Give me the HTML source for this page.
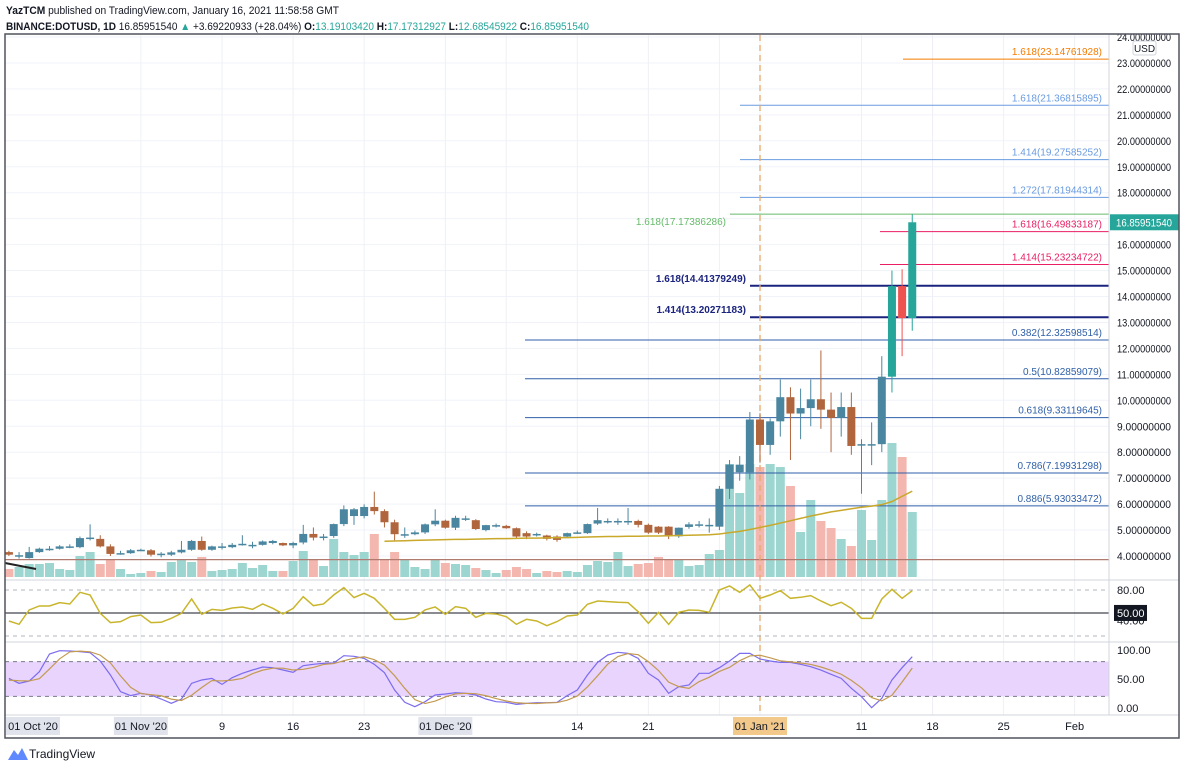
<!DOCTYPE html>
<html><head><meta charset="utf-8">
<style>
html,body{margin:0;padding:0;background:#fff;width:1185px;height:768px;overflow:hidden}
svg{display:block;font-family:"Liberation Sans",sans-serif}
</style></head>
<body>
<svg id="chart" width="1185" height="768" viewBox="0 0 1185 768" xmlns="http://www.w3.org/2000/svg">
<rect x="0" y="0" width="1185" height="768" fill="#ffffff"/>
<text x="6" y="14" font-size="11" fill="#131722" textLength="333" lengthAdjust="spacingAndGlyphs"><tspan font-weight="bold">YazTCM</tspan> published on TradingView.com, January 16, 2021 11:58:58 GMT</text>
<text x="6" y="30" font-size="11" fill="#131722" textLength="583" lengthAdjust="spacingAndGlyphs"><tspan font-weight="bold">BINANCE:DOTUSD, 1D</tspan> 16.85951540 <tspan fill="#26a69a">▲</tspan> +3.69220933 (+28.04%) <tspan font-weight="bold">O:</tspan><tspan fill="#26a69a">13.19103420</tspan> <tspan font-weight="bold">H:</tspan><tspan fill="#26a69a">17.17312927</tspan> <tspan font-weight="bold">L:</tspan><tspan fill="#26a69a">12.68545922</tspan> <tspan font-weight="bold">C:</tspan><tspan fill="#26a69a">16.85951540</tspan></text>
<g id="grid"></g>
<g id="vol"></g>
<g id="fibs"></g>
<g id="candles"></g>
<g id="ind"></g>
<g id="axes"></g>
<rect x="5" y="34" width="1174" height="704" fill="none" stroke="#50535e" stroke-width="1.5"/>
<g>
<path d="M8 760 L14 750 L18 755 L22 748 L28 760 Z" fill="#2962ff" opacity="0.75"/>
<text x="29" y="758" font-size="12" fill="#131722">TradingView</text>
</g>
</svg>
<script>
const opens=[4.15,4.02,3.92,4.15,4.28,4.28,4.37,4.34,4.71,4.66,4.37,4.11,4.11,4.24,4.22,4.09,4.05,4.14,4.24,4.58,4.24,4.37,4.34,4.47,4.43,4.43,4.5,4.5,4.41,4.52,4.85,4.75,4.77,5.23,5.54,5.54,5.89,5.73,5.30,4.84,4.84,4.91,5.22,5.36,5.09,5.45,5.38,5.00,5.19,5.16,5.07,4.88,4.85,4.79,4.75,4.75,4.91,4.88,5.25,
5.35,5.35,5.35,5.35,5.20,5.13,5.13,4.76,5.12,5.22,5.2,5.13,6.59,7.23,7.23,9.26,8.28,9.19,10.12,9.49,9.70,10.04,9.64,9.32,9.74,8.31,8.31,8.31,10.91,14.40,13.17];
const closes=[4.05,4.03,4.15,4.28,4.28,4.37,4.37,4.69,4.71,4.37,4.08,4.11,4.22,4.24,4.05,4.09,4.14,4.24,4.58,4.24,4.37,4.37,4.43,4.47,4.43,4.56,4.58,4.41,4.5,4.85,4.71,4.75,5.23,5.80,5.80,5.89,5.73,5.30,4.84,4.84,4.91,5.22,5.36,5.09,5.47,5.45,5.04,5.19,5.19,5.07,4.75,4.75,4.85,4.66,4.62,4.88,4.91,5.23,5.38,
5.35,5.35,5.35,5.20,4.90,4.90,4.76,5.09,5.22,5.22,5.2,6.59,7.52,7.52,9.26,8.28,9.19,10.12,9.49,9.70,10.04,9.64,9.32,9.74,8.24,8.31,8.31,10.91,14.40,13.17,16.86];
const highs=[4.2,4.15,4.35,4.32,4.38,4.42,4.45,4.75,5.22,4.8,4.45,4.2,4.27,4.28,4.27,4.15,4.2,4.58,4.62,4.75,4.4,4.5,4.5,4.8,4.55,4.6,4.62,4.52,4.55,5.2,5.1,4.85,5.25,5.95,5.85,5.99,6.48,5.8,5.4,5.1,4.98,5.25,5.8,5.4,5.55,5.55,5.42,5.2,5.25,5.2,5.1,4.95,4.9,4.82,4.8,4.9,4.98,5.25,5.85,
5.45,5.45,5.85,5.4,5.25,5.15,5.15,5.1,5.3,5.35,5.45,6.7,7.7,7.85,9.55,9.5,9.3,10.8,10.5,10.45,10.8,11.92,10.3,10.3,10.3,8.5,9.15,11.7,15.0,15.05,17.17];
const lows=[4.0,3.9,3.9,4.12,4.2,4.25,4.3,4.3,4.6,4.33,4.0,4.05,4.08,4.2,3.98,3.95,4.0,4.1,4.2,4.2,4.2,4.25,4.3,4.4,4.3,4.4,4.45,4.38,4.3,4.45,4.6,4.6,4.7,5.15,5.2,5.45,5.6,5.1,4.6,4.7,4.8,4.85,5.15,5.05,5.0,5.35,5.0,4.95,5.1,5.05,4.68,4.65,4.75,4.6,4.55,4.7,4.85,4.85,5.2,
5.25,5.2,5.2,5.1,4.85,4.85,4.65,4.7,5.05,5.1,4.9,5.0,6.2,6.9,6.95,7.6,7.9,8.6,7.7,8.5,9.0,8.9,8.0,8.6,7.9,6.40,7.5,8.0,10.3,11.7,12.68];
const volumes=[8,10,13,13,14,8,7,21,25,13,17,8,3,4,6,5,15,17,15,20,6,7,8,14,9,12,6,6,16,26,17,11,38,25,22,25,43,18,25,17,10,8,17,14,13,12,9,7,4,7,10,8,4,6,5,6,5,12,16,
15,25,11,13,14,20,18,17,11,12,23,27,113,84,113,110,113,110,91,45,77,56,49,38,31,67,37,77,134,120,65];
const maStart=37;
const maValues=[4.57,4.58,4.59,4.6,4.61,4.62,4.63,4.64,4.64,4.65,4.66,4.67,4.67,4.68,4.69,4.69,4.7,4.71,4.71,4.72,4.73,4.74,
4.75,4.75,4.76,4.76,4.77,4.77,4.78,4.79,4.8,4.81,4.82,
4.85,4.9,4.95,5.02,5.1,5.18,5.27,5.36,5.45,5.54,5.62,5.7,5.76,5.82,5.88,5.92,5.98,6.1,6.3,6.5];
const rsiValues=[39.5,35.2,53.9,59.1,59.1,63.4,61.7,76.9,73.4,49.5,37.4,38.7,45.2,47.3,37.4,37.8,43,49.5,68.2,48.2,54.7,53.4,56.5,57.8,54.7,61.7,56,48.7,56,71.2,59.5,61.7,73.4,83,70,75.6,69.1,56,41.7,41.7,44.3,53.9,57.8,48.2,58.2,56,44.3,49.5,48.7,45.2,35.2,41.7,39.5,33.4,38.7,46,47.3,61.3,65.6,
64.7,63.9,63.4,51.7,36.5,50.8,35.2,50.8,53.9,53.4,50.8,79.9,85.2,76.9,86.5,69.1,73.4,79.1,69.1,70.4,72.6,65.6,59.5,63.9,56,43,43,68.2,80.8,69.1,79.1];
const stochK=[51.1,42.5,46.5,62.6,93.1,98.8,98.3,97.1,95.4,81,56.9,28.2,21.3,25.3,22.4,15.5,8.0,15.5,42.5,48.3,51.1,40.8,52.3,59.8,65.5,70.7,69.5,65.5,61.5,73,75.3,77,77.6,90.2,89.1,85.6,75.3,60.9,31,9.8,2.3,10.9,22.4,24.1,26.4,25.3,22.4,15.5,10.9,9.8,6.3,8,9.2,9.2,9.8,21.3,31,56.9,78.7,
91.4,96,94.2,85.6,59.8,48.3,25.3,36.8,39.7,59.8,59.8,69.5,81,94.2,94.2,84.5,81,78.7,78.7,75.3,71.3,65.5,58.1,51.1,33.9,19.5,0.6,16.7,48.3,69.5,88.5];
const stochD=[48,47,46.7,50.5,67.4,84.8,96.7,98.1,96.9,91.2,77.8,55.4,35.5,24.9,23,21.1,15.3,13,22,35.4,47.3,46.7,48.1,51,59.2,65.3,68.6,68.6,65.5,66.7,69.9,75.1,76.6,81.6,85.6,88.3,83.3,73.9,55.7,33.9,14.4,7.7,11.9,19.1,24.3,25.3,24.7,21.1,16.3,12.1,9,8,7.8,8.8,9.4,13.4,20.7,36.4,55.5,
75.7,88.7,93.9,91.9,79.9,64.6,44.5,36.8,33.9,45.4,53.1,63,70.1,81.6,89.8,91,86.6,81.4,79.5,77.6,75.1,70.7,65,58.2,47.7,34.8,18,12.3,21.9,44.8,68.8];
const priceTicks=[24,23,22,21,20,19,18,17,16,15,14,13,12,11,10,9,8,7,6,5,4];
const timeLabels=["01 Oct '20","01 Nov '20","9","16","23","01 Dec '20","14","21","01 Jan '21","11","18","25","Feb"];
const timeOffsets=[-19,13,21,28,35,43,56,63,74,84,91,98,105];
const fibValues=[23.14761928,21.36815895,19.27585252,17.81944314,17.17386286,16.49833187,15.23234722,14.41379249,13.20271183,12.32598514,10.82859079,9.33119645,7.19931298,5.93033472];
const fibRatios=["1.618","1.618","1.414","1.272","1.618","1.618","1.414","1.618","1.414","0.382","0.5","0.618","0.786","0.886"];

const NS="http://www.w3.org/2000/svg";
function mk(tag,attrs,parent){const e=document.createElementNS(NS,tag);for(const k in attrs)e.setAttribute(k,attrs[k]);parent.appendChild(e);return e;}
const X=i=>760+(i-74)*10.15;
const Y=p=>37+(24-p)*25.95;
const VY=v=>577-v;
const RY=v=>651.3-v*0.767;
const SY=v=>708-v*0.58;
const PLOT_R=1109;
const grid=document.getElementById('grid');
const vol=document.getElementById('vol');
const fibs=document.getElementById('fibs');
const cg=document.getElementById('candles');
const ind=document.getElementById('ind');
const axes=document.getElementById('axes');

priceTicks.forEach(p=>{const l=mk('line',{x1:5,x2:PLOT_R,y1:Y(p),y2:Y(p),stroke:'#f0f3fa','stroke-width':1},grid);

});
timeOffsets.forEach((d,k)=>{if(k===0)return;const l=mk('line',{x1:X(d),x2:X(d),y1:35,y2:715,stroke:'#eef0f5','stroke-width':1},grid);

});
[49,70].forEach(d=>{const l=mk('line',{x1:X(d),x2:X(d),y1:35,y2:715,stroke:'#eef0f5','stroke-width':1},grid);

});

volumes.forEach((v,i)=>{const up=closes[i]>=opens[i];const r=mk('rect',{x:X(i)-4.5,y:VY(v),width:9,height:v,fill:up?'#8ccfc8':'#f2aaa2',opacity:0.85},vol);

});

let hl=mk('line',{x1:5,x2:PLOT_R,y1:Y(3.86),y2:Y(3.86),stroke:'#b07a70','stroke-width':1.3},fibs);



const fibColors=['#f57c00','#6a9be0','#6a9be0','#6a9be0','#66bb6a','#e91e63','#e91e63','#1a237e','#1a237e','#2f5fa8','#2f5fa8','#2f5fa8','#2f5fa8','#2f5fa8'];
const fibStart=[903,740,740,740,730,880,880,750,750,525,525,525,525,525];
fibValues.forEach((v,k)=>{
 const y=Y(v);const thick=(k===7||k===8);
 const l=mk('line',{x1:fibStart[k],x2:PLOT_R,y1:y,y2:y,stroke:fibColors[k],'stroke-width':thick?2:1},fibs);
 
 
 let t;
 if(k===4){t=mk('text',{x:726,y:y+11,'font-size':10,fill:'#66bb6a','text-anchor':'end'},fibs);}
 else if(thick){t=mk('text',{x:746,y:y-4,'font-size':10,fill:'#1a237e','font-weight':'bold','text-anchor':'end'},fibs);}
 else {t=mk('text',{x:1102,y:y-4,'font-size':10,fill:fibColors[k],'text-anchor':'end'},fibs);}
 t.textContent=fibRatios[k]+'('+v.toFixed(8)+')';
 
 
});

let jl=mk('line',{x1:760,x2:760,y1:35,y2:715,stroke:'#e6a86a','stroke-width':1.3,'stroke-dasharray':'6,4'},fibs);



opens.forEach((o,i)=>{
 const c=closes[i];const up=c>=o;
 let col=up?'#4a86a0':'#b0653c';
 if(i>=87)col=up?'#26a69a':'#ef5350';
 const x=X(i);
 const w=mk('line',{x1:x,x2:x,y1:Y(highs[i]),y2:Y(lows[i]),stroke:col,'stroke-width':1},cg);
 
 
 const top=Y(Math.max(o,c)),h=Math.max(1.5,Math.abs(Y(o)-Y(c)));
 const b=mk('rect',{x:x-4,y:top,width:8,height:h,fill:col},cg);
 
 
});

let pts=maValues.map((v,k)=>X(maStart+k)+','+Y(v)).join(' ');
let ma=mk('polyline',{points:pts,fill:'none',stroke:'#c9a82a','stroke-width':1.5},ind);


let bl=mk('line',{x1:5,y1:563,x2:36,y2:569,stroke:'#222','stroke-width':2},ind);



[580,642,715].forEach(y=>{const l=mk('line',{x1:5,x2:1179,y1:y,y2:y,stroke:'#d1d4dc','stroke-width':1},axes);

});
let ps=mk('line',{x1:PLOT_R,x2:PLOT_R,y1:34,y2:715,stroke:'#d1d4dc','stroke-width':1},axes);



[80,20].forEach(v=>{const l=mk('line',{x1:5,x2:PLOT_R,y1:RY(v),y2:RY(v),stroke:'#b2b5be','stroke-dasharray':'4,4'},ind);

});
let r50=mk('line',{x1:5,x2:PLOT_R,y1:RY(50),y2:RY(50),stroke:'#131722','stroke-width':1},ind);


let rl=mk('polyline',{points:rsiValues.map((v,i)=>X(i)+','+RY(v)).join(' '),fill:'none',stroke:'#c9b52c','stroke-width':1.5},ind);



let sb=mk('rect',{x:5,y:SY(80),width:PLOT_R-5,height:SY(20)-SY(80),fill:'#e8d4fc'},ind);


[80,20].forEach(v=>{const l=mk('line',{x1:5,x2:PLOT_R,y1:SY(v),y2:SY(v),stroke:'#787b86','stroke-dasharray':'4,4'},ind);

});
let kl=mk('polyline',{points:stochK.map((v,i)=>X(i)+','+SY(v)).join(' '),fill:'none',stroke:'#7b6cf0','stroke-width':1.2},ind);


let dl=mk('polyline',{points:stochD.map((v,i)=>X(i)+','+SY(v)).join(' '),fill:'none',stroke:'#c39a50','stroke-width':1.2},ind);



priceTicks.forEach(p=>{const t=mk('text',{x:1117,y:Y(p)+4,'font-size':11,fill:'#131722',textLength:54,lengthAdjust:'spacingAndGlyphs'},axes);t.textContent=p.toFixed(8);

});
let ub=mk('rect',{x:1133,y:41,width:23,height:14,fill:'#fff',stroke:'#d1d4dc',rx:2},axes);


let ut=mk('text',{x:1144.5,y:52,'font-size':10,fill:'#131722','text-anchor':'middle'},axes);ut.textContent='USD';


let cb=mk('rect',{x:1110,y:Y(16.86)-8,width:69,height:16,fill:'#26a69a'},axes);


let ct=mk('text',{x:1116,y:Y(16.86)+4,'font-size':11,fill:'#fff',textLength:56,lengthAdjust:'spacingAndGlyphs'},axes);ct.textContent='16.85951540';



[[80,'80.00'],[40,'40.00']].forEach(a=>{const t=mk('text',{x:1117,y:RY(a[0])+4,'font-size':11,fill:'#131722'},axes);t.textContent=a[1];

});
let rb=mk('rect',{x:1114,y:RY(50)-8,width:33,height:16,fill:'#131722'},axes);


let rt=mk('text',{x:1117,y:RY(50)+4,'font-size':11,fill:'#fff'},axes);rt.textContent='50.00';


[[100,'100.00'],[50,'50.00'],[0,'0.00']].forEach(a=>{const t=mk('text',{x:1117,y:SY(a[0])+4,'font-size':11,fill:'#131722'},axes);t.textContent=a[1];

});

timeLabels.forEach((s,k)=>{
 let x=X(timeOffsets[k]);const boxed=s.indexOf("'")>=0;
 if(k===0)x=33;
 if(boxed){const b=mk('rect',{x:x-27,y:717,width:54,height:18,fill:k===8?'#f3c98b':'#e0e3eb'},axes);
 
 }
 const t=mk('text',{x:x,y:730,'font-size':11,fill:'#131722','text-anchor':'middle'},axes);t.textContent=s;
 
 
});
</script>
</body></html>
